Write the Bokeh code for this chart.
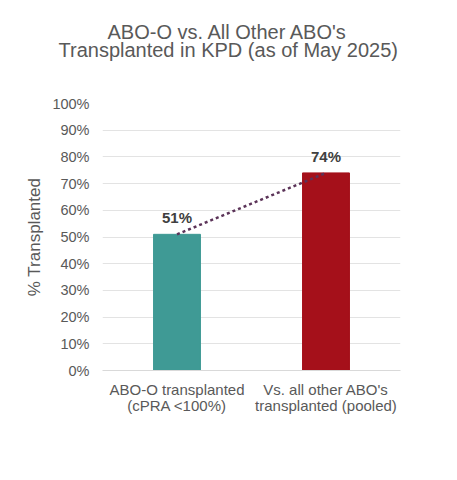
from bokeh.plotting import figure
from bokeh.models import Range1d, NumeralTickFormatter, FixedTicker, ColumnDataSource, Title
from bokeh.core.properties import value
from bokeh.embed import file_html
from bokeh.resources import INLINE

categories = ["ABO-O transplanted\n(cPRA <100%)", "Vs. all other ABO's\ntransplanted (pooled)"]
values = [0.51, 0.74]
labels = ["51%", "74%"]
colors = ["#3F9A95", "#A5101A"]
y_ticks = [0.0, 0.1, 0.2, 0.3, 0.4, 0.5, 0.6, 0.7, 0.8, 0.9, 1.0]
title_line1 = "ABO-O  vs. All Other ABO's"
title_line2 = "Transplanted in KPD (as of May 2025)"
y_label = "% Transplanted"

FONT = "Liberation Sans"
GREY = "#595959"

src = ColumnDataSource(dict(cat=categories, val=values, lab=labels, col=colors))

p = figure(x_range=categories, y_range=Range1d(0, 1.0), width=449, height=472,
           output_backend="svg", toolbar_location=None,
           min_border_left=102, min_border_right=49, min_border_bottom=102, min_border_top=103)

def style_title(t, standoff, offset):
    t.align = "left"
    t.offset = offset
    t.text_font = FONT
    t.text_font_size = "20px"
    t.text_font_style = "normal"
    t.text_color = GREY
    t.standoff = standoff

# blank spacer between the title block and the plot area (innermost "above" panel)
spacer = Title(text=" ", text_font_size="1px", text_color="white", standoff=45)
p.add_layout(spacer, "above")
t2 = Title(text=title_line2)
style_title(t2, -11, -44)
p.add_layout(t2, "above")
t1 = Title(text=title_line1)
style_title(t1, 0, 5)
p.add_layout(t1, "above")
p.title.text = ""
p.title.standoff = 0

p.vbar(x="cat", top="val", width=0.315, color="col", source=src)
p.line(x="cat", y="val", source=src, line_color="#5B3358", line_width=2.5, line_dash="3 3")
p.text(x="cat", y="val", text="lab", source=src, text_align="center", text_baseline="bottom",
       y_offset=-8, text_font=value(FONT), text_font_style="bold", text_font_size="15px",
       text_color="#404040")

p.outline_line_color = None
p.xgrid.grid_line_color = None
p.ygrid.grid_line_color = "#E3E3E3"
p.ygrid.grid_line_width = 1

p.yaxis.ticker = FixedTicker(ticks=y_ticks)
p.yaxis.formatter = NumeralTickFormatter(format="0%")
p.yaxis.axis_line_color = None
p.yaxis.major_tick_line_color = None
p.yaxis.minor_tick_line_color = None
p.yaxis.major_tick_out = 0
p.yaxis.major_tick_in = 0
p.yaxis.major_label_standoff = 13
p.yaxis.major_label_text_font = FONT
p.yaxis.major_label_text_font_size = "14.5px"
p.yaxis.major_label_text_color = GREY
p.yaxis.axis_label = y_label
p.yaxis.axis_label_text_font = FONT
p.yaxis.axis_label_text_font_size = "17px"
p.yaxis.axis_label_text_font_style = "normal"
p.yaxis.axis_label_text_color = GREY
p.yaxis.axis_label_standoff = 5

p.xaxis.axis_line_color = "#D9D9D9"
p.xaxis.major_tick_line_color = None
p.xaxis.major_tick_out = 0
p.xaxis.major_tick_in = 0
p.xaxis.major_label_standoff = 10
p.xaxis.major_label_text_font = FONT
p.xaxis.major_label_text_font_size = "15px"
p.xaxis.major_label_text_color = GREY
p.xaxis.major_label_text_line_height = 0.95

open("out.html", "w").write(file_html(p, INLINE))
